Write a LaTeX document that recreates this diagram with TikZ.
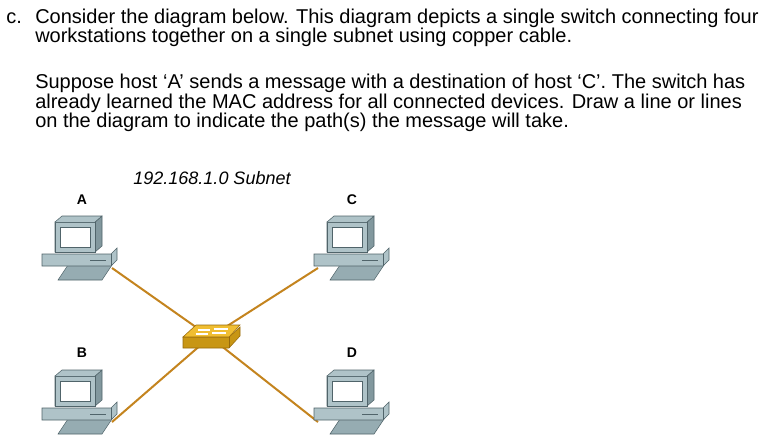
\documentclass[tikz,border=0pt]{standalone}
\usepackage{fontspec}
\setmainfont{Liberation Sans}
\definecolor{pcedge}{RGB}{80,100,106}
\definecolor{pclight}{RGB}{175,195,200}
\definecolor{pcmid}{RGB}{150,172,178}
\definecolor{pcdark}{RGB}{130,152,158}
\definecolor{cablec}{RGB}{196,132,30}
\definecolor{swfront}{RGB}{200,150,20}
\definecolor{swtop}{RGB}{240,190,50}
\definecolor{swedge}{RGB}{150,105,10}
\begin{document}
\begin{tikzpicture}[x=0.75pt,y=-0.75pt,
  txt/.style={anchor=west,inner sep=0pt,font=\fontsize{15pt}{18pt}\selectfont},
  lbl/.style={font=\bfseries\fontsize{10.5pt}{12pt}\selectfont,inner sep=0pt},
  cable/.style={draw=cablec,line width=1.5pt},
  pcl/.style={draw=pcedge,line width=0.4pt},
  pc/.pic={
    \fill[pcl,fill=pcmid] (-10,-6) -- (-22,12) -- (22,12) -- (34,-6) -- cycle;
    \fill[pcl,fill=pclight] (-38,-14) -- (31,-14) -- (37,-20) -- (37,-8) -- (31,-2) -- (-38,-2) -- cycle;
    \draw[pcl] (31,-14) -- (31,-2);
    \draw[pcedge,line width=0.6pt] (10,-8) -- (26,-8);
    \fill[pcl,fill=pcdark] (-25,-46) -- (15,-46) -- (22,-52) -- (22,-22) -- (15,-16) -- (-25,-16) -- cycle;
    \fill[pcl,fill=pclight] (-25,-46) rectangle (15,-16);
    \fill[pcl,fill=white] (-20,-41) rectangle (10,-21);
    \fill[fill=pclight] (-25,-46) -- (15,-46) -- (22,-52) -- (-18,-52) -- cycle;
    \draw[pcl] (-25,-46) -- (-18,-52) -- (22,-52) (15,-46) -- (22,-52);
  }]
\useasboundingbox[fill=white] (0,0) rectangle (762,439);
\node[txt] (t1) at (6,18) {c.};
\node[txt] (t2) at (35,18) {Consider the diagram below. This diagram depicts a single switch connecting four};
\node[txt] (t3) at (35,37) {workstations together on a single subnet using copper cable.};
\node[txt] (t4) at (35,83) {Suppose host ‘A’ sends a message with a destination of host ‘C’. The switch has};
\node[txt] (t5) at (35,103) {already learned the MAC address for all connected devices. Draw a line or lines};
\node[txt] (t6) at (35,122) {on the diagram to indicate the path(s) the message will take.};
\node[font=\itshape\fontsize{13.5pt}{15pt}\selectfont,inner sep=0pt] (sub) at (212,178) {192.168.1.0 Subnet};
\coordinate (sw) at (210,337);
\coordinate (pa) at (112,268);
\coordinate (pc) at (318,268);
\coordinate (pb) at (112,422);
\coordinate (pd) at (318,422);
\draw[cable] (pa) -- (sw) -- (pd);
\draw[cable] (pc) -- (sw) -- (pb);
\fill[fill=swfront,draw=swedge,line width=0.4pt]
  (183,337) -- (229,337) -- (240,327) -- (240,336) -- (229,348) -- (183,348) -- cycle;
\fill[fill=swtop,draw=swedge,line width=0.4pt]
  (183,337) -- (196,325) -- (240,325) -- (229,337) -- cycle;
\draw[white,line width=1pt] (198,330) -- (210,330) (214,329) -- (228,329) (196,334) -- (208,334) (212,333) -- (226,333);
\draw[swedge,line width=0.4pt] (229,337) -- (229,348);
\pic at (80,268) {pc};
\pic at (352,268) {pc};
\pic at (80,422) {pc};
\pic at (352,422) {pc};
\node[lbl] (A) at (82,200) {A};
\node[lbl] (C) at (352,200) {C};
\node[lbl] (B) at (82,353) {B};
\node[lbl] (D) at (352,353) {D};
\end{tikzpicture}
\end{document}
